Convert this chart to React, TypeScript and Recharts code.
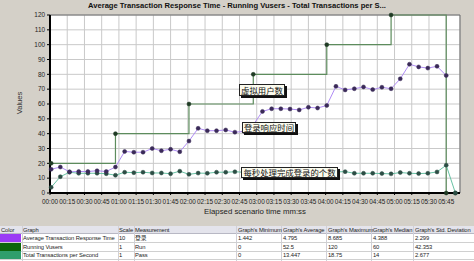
import React from "react";
import {
  ComposedChart,
  Line,
  XAxis,
  YAxis,
  CartesianGrid,
  ReferenceArea,
} from "recharts";

// sample times in seconds
const sampleTimes = [
  1, 9, 17, 25, 33, 41, 49, 57, 65, 73, 81, 89, 97, 105, 113, 121, 129, 137, 145,
  153, 161, 169, 177, 185, 193, 201, 209, 217, 225, 233, 241, 249, 257, 265, 273,
  281, 289, 297, 305, 313, 321, 329, 337, 345, 353,
];

// Average Transaction Response Time (scale 10)
const responseTime = [
  16, 17.5, 14.3, 14.5, 14.5, 15, 14.5, 17.5, 28, 27.5, 27.5, 30, 28.5, 29.5, 27.8,
  35, 43.6, 42, 42, 42.5, 41, 41.5, 46, 55, 56.8, 56.8, 56.6, 56, 57.8, 57.3, 59,
  71.9, 69.5, 70.3, 71.5, 69.7, 71.3, 70.3, 77, 86.8, 85, 84.2, 85.4, 79.2,
];

// Total Transactions per Second
const tps = [
  3.8, 11, 14, 13.3, 13.3, 13.3, 13, 12, 14, 13.7, 14, 13.5, 13.5, 13, 14.7, 12.6,
  13.4, 13.3, 14, 14, 14.3, 14, 14.2, 14, 14, 14.3, 14, 14.2, 14, 14.3, 14, 14.2,
  14.4, 13.3, 13.3, 13.3, 13.1, 12.9, 13.8, 13.3, 13.1, 13.3, 14.2, 18.75, 0,
];

// Running Vusers (change points only)
const vuserTimes = [1, 57, 121, 177, 241, 297, 345, 353];
const vuserCounts = [20, 40, 60, 80, 100, 120, 0, 0];

const xTicks = [
  0, 15, 30, 45, 60, 75, 90, 105, 120, 135, 150, 165, 180, 195, 210, 225, 240, 255,
  270, 285, 300, 315, 330, 345,
];
const yTicks = [0, 10, 20, 30, 40, 50, 60, 70, 80, 90, 100, 110, 120];

// legend table
const graphNames = [
  "Average Transaction Response Time",
  "Running Vusers",
  "Total Transactions per Second",
];
const graphColors = ["#9b3cf5", "#0b650b", "#2f9e6c"];
const scales = ["10", "1", "1"];
const measurements = ["登录", "Run", "Pass"];
const minimums = ["1.442", "0", "0"];
const averages = ["4.795", "52.5", "13.447"];
const maximums = ["8.685", "120", "18.75"];
const medians = ["4.388", "60", "14"];
const stdDevs = ["2.299", "42.353", "2.677"];

const data = sampleTimes.map((t, i) => ({
  t,
  rt: i < responseTime.length ? responseTime[i] : null,
  tps: tps[i],
}));
const vuserData = vuserTimes.map((t, i) => ({ t, vu: vuserCounts[i] }));

const fmt = (s: number) => {
  const m = Math.floor(s / 60);
  const ss = s % 60;
  return `${m < 10 ? "0" : ""}${m}:${ss < 10 ? "0" : ""}${ss}`;
};

const callout = (text: string, left: number, top: number, w: number, h: number) => (
  <div
    style={{
      position: "absolute",
      left,
      top,
      width: w,
      height: h,
      background: "#fbfbee",
      border: "1px solid #222",
      boxShadow: "2px 2px 0 #111",
      fontFamily: "'Noto Sans CJK SC', sans-serif",
      fontSize: 8.4,
      lineHeight: `${h - 2}px`,
      textAlign: "center",
      color: "#111",
      whiteSpace: "nowrap",
      boxSizing: "border-box",
      overflow: "hidden",
    }}
  >
    {text}
  </div>
);

const cols = [1, 23, 119, 135, 238, 283, 328, 373, 415];
const headers = [
  "Color",
  "Graph",
  "Scale",
  "Measurement",
  "Graph's Minimum",
  "Graph's Average",
  "Graph's Maximum",
  "Graph's Median",
  "Graph's Std. Deviation",
];

const cellFont = {
  fontSize: 5.8,
  letterSpacing: -0.1,
  color: "#222",
  whiteSpace: "nowrap" as const,
};

const App = () => {
  const rowTop = 225.5;
  const rowH = 8.6;
  return (
    <div
      style={{
        position: "absolute",
        left: 0,
        top: 0,
        width: 474,
        height: 261,
        background: "#d4d0c8",
        overflow: "hidden",
        fontFamily: "'Liberation Sans', Arial, sans-serif",
      }}
    >
      <div
        style={{
          position: "absolute",
          left: 0,
          top: 1,
          width: 474,
          textAlign: "center",
          fontWeight: "bold",
          fontSize: 7.6,
          color: "#111",
        }}
      >
        Average Transaction Response Time - Running Vusers - Total Transactions per S...
      </div>
      <ComposedChart
        width={474}
        height={208}
        data={data}
        margin={{ top: 15, right: 14, bottom: 0, left: 0 }}
        style={{ position: "absolute", left: 0, top: 0 }}
      >
        <CartesianGrid stroke="#c9c9c9" fill="#ffffff" strokeWidth={1} />
        <XAxis
          dataKey="t"
          type="number"
          domain={[0, 357]}
          ticks={xTicks}
          tickFormatter={fmt}
          interval={0}
          height={15}
          axisLine={{ stroke: "#000", strokeWidth: 2 }}
          tickLine={{ stroke: "#000" }}
          tickSize={2}
          tickMargin={4}
          tick={{ fontSize: 6.4, fill: "#222" }}
        />
        <YAxis
          type="number"
          domain={[0, 120]}
          ticks={yTicks}
          interval={0}
          width={50}
          axisLine={{ stroke: "#000", strokeWidth: 2 }}
          tickLine={{ stroke: "#000" }}
          tickSize={3}
          tickMargin={2}
          tick={{ fontSize: 6.4, fill: "#222" }}
        />
        <ReferenceArea
          x1={0}
          x2={357}
          y1={0}
          y2={120}
          fill="none"
          stroke="#6a6a6a"
          strokeWidth={1}
          ifOverflow="visible"
        />
        <Line
          data={vuserData}
          dataKey="vu"
          type="stepAfter"
          stroke="#5d8c5d"
          strokeWidth={1.2}
          dot={{ r: 2, fill: "#1f3a24", stroke: "#1f3a24", strokeWidth: 0.5 }}
          isAnimationActive={false}
        />
        <Line
          dataKey="tps"
          type="linear"
          stroke="#68c2a4"
          strokeWidth={1}
          dot={{ r: 2, fill: "#2c4d44", stroke: "#2c4d44", strokeWidth: 0.5 }}
          isAnimationActive={false}
        />
        <Line
          dataKey="rt"
          type="linear"
          stroke="#b08cf5"
          strokeWidth={1}
          dot={{ r: 2, fill: "#3a2a58", stroke: "#3a2a58", strokeWidth: 0.5 }}
          isAnimationActive={false}
        />
      </ComposedChart>
      <div
        style={{
          position: "absolute",
          left: 19,
          top: 103,
          transform: "translate(-50%, -50%) rotate(-90deg)",
          fontSize: 7.6,
          color: "#333",
        }}
      >
        Values
      </div>
      <div
        style={{
          position: "absolute",
          left: 50,
          width: 410,
          top: 207,
          textAlign: "center",
          fontSize: 7.8,
          color: "#222",
        }}
      >
        Elapsed scenario time mm:ss
      </div>
      {callout("虚拟用户数", 239, 84, 46, 12)}
      {callout("登录响应时间", 242, 122, 54, 11)}
      {callout("每秒处理完成登录的个数", 241, 167, 97, 11)}

      {/* table */}
      <div
        style={{
          position: "absolute",
          left: 0,
          top: rowTop,
          width: 474,
          height: 261 - rowTop,
          background: "#ffffff",
        }}
      />
      <div
        style={{
          position: "absolute",
          left: 0,
          top: rowTop,
          width: 474,
          height: rowH,
          background: "#e4e4ec",
          borderBottom: "1px solid #b8b8c4",
          boxSizing: "border-box",
        }}
      />
      {[22, 118, 134, 236, 281, 326, 371, 413].map((x) => (
        <div
          key={x}
          style={{
            position: "absolute",
            left: x,
            top: rowTop,
            width: 0.8,
            height: 261 - rowTop,
            background: "#d0d0d8",
          }}
        />
      ))}
      {headers.map((h, c) => (
        <div
          key={h}
          style={{
            position: "absolute",
            left: cols[c],
            top: rowTop,
            height: rowH,
            lineHeight: `${rowH}px`,
            ...cellFont,
          }}
        >
          {h}
        </div>
      ))}
      {graphNames.map((g, r) => {
        const top = rowTop + rowH * (r + 1);
        const cells = [
          g,
          scales[r],
          measurements[r],
          minimums[r],
          averages[r],
          maximums[r],
          medians[r],
          stdDevs[r],
        ];
        return (
          <React.Fragment key={g}>
            <div
              style={{
                position: "absolute",
                left: 0,
                top,
                width: 21,
                height: rowH - 0.6,
                background: graphColors[r],
              }}
            />
            <div
              style={{
                position: "absolute",
                left: 0,
                top: top + rowH - 0.6,
                width: 474,
                height: 0.6,
                background: "#d0d0d0",
              }}
            />
            {cells.map((v, c) => (
              <div
                key={c}
                style={{
                  position: "absolute",
                  left: cols[c + 1],
                  top,
                  height: rowH,
                  lineHeight: `${rowH}px`,
                  ...cellFont,
                  fontFamily:
                    c === 2 && r === 0
                      ? "'Noto Sans CJK SC', sans-serif"
                      : "'Liberation Sans', Arial, sans-serif",
                }}
              >
                {v}
              </div>
            ))}
          </React.Fragment>
        );
      })}
    </div>
  );
};

export default App;
